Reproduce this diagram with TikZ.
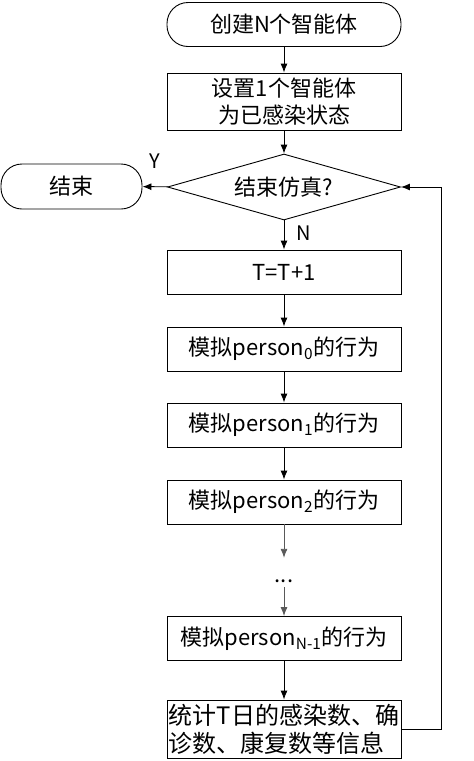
\documentclass[tikz,border=0pt]{standalone}
\usepackage{fontspec}
\setmainfont{Noto Sans CJK SC}
\usetikzlibrary{shapes.geometric,arrows.meta}

\begin{document}
\begin{tikzpicture}[x=1pt,y=-1pt,
    kasten/.style={draw, line width=0.9pt, minimum width=234, minimum height=44, inner sep=2pt, align=center, font=\fontsize{22}{27}\selectfont},
    ende/.style={kasten, rounded corners=21pt},
    raute/.style={draw, diamond, aspect=3.53, line width=0.9pt, minimum width=233, minimum height=66, inner sep=0pt, font=\fontsize{22}{27}\selectfont},
    pfeil/.style={-{Latex[length=9pt,width=7pt]}, line width=0.9pt},
    marke/.style={font=\fontsize{20}{22}\selectfont},
]
\useasboundingbox (0,0) rectangle (474,761);

\node [ende] (start) at (284,24.5) {创建N个智能体};
\node [kasten, minimum height=57] (init) at (284,101.5) {设置1个智能体\\为已感染状态};
\node [raute] (frage) at (284,187) {结束仿真?};
\node [ende, minimum width=141, minimum height=45] (stop) at (71.5,186.5) {结束};
\node [kasten] (zeit) at (284,272) {T=T+1};
\node [kasten] (p0) at (284,349) {模拟person\textsubscript{0}的行为};
\node [kasten] (p1) at (284,425) {模拟person\textsubscript{1}的行为};
\node [kasten] (p2) at (284,502) {模拟person\textsubscript{2}的行为};
\node [inner sep=0pt, text height=24pt, text depth=5pt, anchor=base, font=\fontsize{22}{27}\selectfont] (punkte) at (284,582) {...};
\node [kasten] (pn) at (284,638.5) {模拟person\textsubscript{N-1}的行为};
\node [kasten, minimum height=58, inner sep=1pt, align=left, font=\fontsize{24}{28}\selectfont] (statistik) at (284,729) {统计T日的感染数、确\\诊数、康复数等信息};

\node [marke] (Y) at (155,161) {Y};
\node [marke] (N) at (304,233) {N};

\draw [pfeil] (start) -- (init);
\draw [pfeil] (init) -- (frage);
\draw [pfeil] (frage) -- (stop);
\draw [pfeil] (frage) -- (zeit);
\draw [pfeil] (zeit) -- (p0);
\draw [pfeil] (p0) -- (p1);
\draw [pfeil] (p1) -- (p2);
\draw [pfeil, black!65] (p2) -- (punkte);
\draw [pfeil, black!65] (punkte) -- (pn);
\draw [pfeil] (pn) -- (statistik);
\draw [pfeil] (statistik.east) -- ++(40,0) |- (frage.east);

\end{tikzpicture}
\end{document}
